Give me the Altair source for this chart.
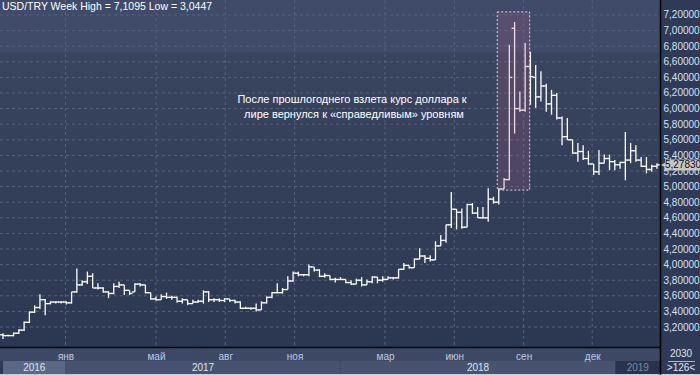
import altair as alt
import pandas as pd

# ---------------- data ----------------
first_week = "2016-10-10"
opens = [3.10, 3.09, 3.09, 3.12, 3.16, 3.26, 3.39, 3.45, 3.55, 3.50,
         3.52, 3.52, 3.52, 3.51, 3.65, 3.74, 3.78, 3.85, 3.70, 3.70,
         3.65, 3.63, 3.72, 3.74, 3.67, 3.65, 3.75, 3.74, 3.64, 3.56,
         3.55, 3.59, 3.58, 3.58, 3.53, 3.55, 3.50, 3.52, 3.53, 3.65,
         3.55, 3.55, 3.54, 3.56, 3.54, 3.52, 3.44, 3.44, 3.44, 3.42,
         3.51, 3.58, 3.64, 3.64, 3.68, 3.79, 3.89, 3.87, 3.87, 3.97,
         3.93, 3.85, 3.86, 3.81, 3.81, 3.81, 3.77, 3.75, 3.80, 3.74,
         3.78, 3.84, 3.80, 3.81, 3.83, 3.83, 3.94, 3.99, 3.96, 4.07,
         4.11, 4.08, 4.06, 4.24, 4.31, 4.51, 4.71, 4.67, 4.48, 4.77,
         4.66, 4.60, 4.60, 4.84, 4.80, 4.97, 5.09, 7.03, 6.00, 5.98,
         6.54, 6.40, 6.15, 6.29, 6.06, 6.17, 5.88, 5.64, 5.60, 5.43,
         5.45, 5.36, 5.29, 5.19, 5.30, 5.36, 5.32, 5.28, 5.31, 5.34,
         5.46, 5.34, 5.26, 5.22, 5.26]
highs = [3.12, 3.10, 3.13, 3.17, 3.27, 3.40, 3.48, 3.62, 3.56, 3.53,
         3.53, 3.53, 3.53, 3.65, 3.95, 3.80, 3.91, 3.89, 3.76, 3.71,
         3.66, 3.76, 3.78, 3.74, 3.67, 3.76, 3.76, 3.74, 3.64, 3.59,
         3.62, 3.64, 3.60, 3.59, 3.57, 3.55, 3.55, 3.55, 3.67, 3.66,
         3.57, 3.57, 3.57, 3.56, 3.55, 3.53, 3.46, 3.45, 3.50, 3.53,
         3.59, 3.65, 3.76, 3.70, 3.85, 3.91, 3.91, 3.88, 4.00, 3.97,
         3.94, 3.89, 3.86, 3.83, 3.84, 3.81, 3.80, 3.82, 3.84, 3.81,
         3.85, 3.84, 3.85, 3.85, 3.84, 3.94, 4.02, 3.99, 4.08, 4.21,
         4.12, 4.12, 4.30, 4.38, 4.51, 4.93, 4.71, 4.72, 4.78, 4.79,
         4.74, 4.74, 4.98, 4.87, 4.98, 5.11, 6.82, 7.11, 6.22, 6.84,
         6.73, 6.56, 6.48, 6.32, 6.24, 6.20, 5.90, 5.88, 5.60, 5.56,
         5.53, 5.46, 5.29, 5.47, 5.41, 5.41, 5.34, 5.32, 5.70, 5.56,
         5.53, 5.38, 5.38, 5.28, 5.30]
lows = [3.045, 3.08, 3.08, 3.11, 3.15, 3.25, 3.38, 3.43, 3.35, 3.49,
        3.50, 3.50, 3.49, 3.50, 3.64, 3.73, 3.75, 3.70, 3.68, 3.64,
        3.57, 3.62, 3.70, 3.61, 3.61, 3.65, 3.72, 3.63, 3.55, 3.54,
        3.55, 3.56, 3.55, 3.51, 3.50, 3.48, 3.50, 3.51, 3.50, 3.52,
        3.52, 3.52, 3.52, 3.52, 3.50, 3.43, 3.43, 3.42, 3.40, 3.42,
        3.50, 3.57, 3.63, 3.63, 3.68, 3.78, 3.85, 3.85, 3.85, 3.91,
        3.84, 3.83, 3.80, 3.77, 3.80, 3.76, 3.74, 3.75, 3.72, 3.74,
        3.76, 3.76, 3.78, 3.81, 3.81, 3.82, 3.93, 3.95, 3.96, 4.07,
        4.02, 4.04, 4.06, 4.24, 4.28, 4.47, 4.45, 4.46, 4.48, 4.65,
        4.60, 4.59, 4.55, 4.78, 4.77, 4.97, 5.08, 5.68, 5.96, 5.96,
        6.05, 6.01, 6.09, 5.96, 5.92, 5.86, 5.53, 5.60, 5.42, 5.32,
        5.34, 5.28, 5.15, 5.15, 5.30, 5.21, 5.21, 5.23, 5.08, 5.30,
        5.32, 5.25, 5.17, 5.19, 5.23]
closes = [3.09, 3.09, 3.12, 3.16, 3.26, 3.39, 3.45, 3.55, 3.50, 3.52,
          3.52, 3.52, 3.51, 3.65, 3.74, 3.78, 3.85, 3.70, 3.70, 3.65,
          3.63, 3.72, 3.74, 3.67, 3.63, 3.75, 3.74, 3.64, 3.56, 3.55,
          3.59, 3.58, 3.58, 3.53, 3.55, 3.50, 3.52, 3.53, 3.65, 3.55,
          3.55, 3.54, 3.56, 3.54, 3.52, 3.44, 3.44, 3.44, 3.42, 3.51,
          3.58, 3.64, 3.64, 3.68, 3.79, 3.89, 3.87, 3.87, 3.97, 3.93,
          3.85, 3.86, 3.81, 3.81, 3.81, 3.77, 3.75, 3.80, 3.74, 3.78,
          3.84, 3.80, 3.81, 3.83, 3.83, 3.94, 3.99, 3.96, 4.07, 4.11,
          4.08, 4.06, 4.24, 4.31, 4.51, 4.71, 4.67, 4.48, 4.77, 4.66,
          4.60, 4.60, 4.84, 4.80, 4.97, 5.09, 6.40, 6.00, 5.98, 6.54,
          6.41, 6.15, 6.29, 6.06, 6.17, 5.88, 5.64, 5.60, 5.43, 5.45,
          5.36, 5.29, 5.19, 5.30, 5.36, 5.32, 5.28, 5.31, 5.34, 5.46,
          5.34, 5.26, 5.22, 5.26, 5.2783]

y_ticks = [3.2, 3.4, 3.6, 3.8, 4.0, 4.2, 4.4, 4.6, 4.8, 5.0, 5.2, 5.4,
           5.6, 5.8, 6.0, 6.2, 6.4, 6.6, 6.8, 7.0, 7.2]
month_ticks = ["2017-01-01", "2017-05-01", "2017-08-01", "2017-11-01",
               "2018-03-01", "2018-06-01", "2018-09-01", "2018-12-01"]
month_names = ["янв", "фев", "мар", "апр", "май", "июн",
               "июл", "авг", "сен", "окт", "ноя", "дек"]
years = ["2016", "2017", "2018", "2019"]
year_starts = ["2016-10-10", "2017-01-01", "2018-01-01", "2019-01-01"]
year_ends = ["2017-01-01", "2018-01-01", "2019-01-01", "2019-03-01"]
title_text = "USD/TRY Week High = 7,1095 Low = 3,0447"
note_lines = ["После прошлогоднего взлета курс доллара к",
              "лире вернулся к «справедливым» уровням"]
highlight_dates = ["2018-07-28", "2018-09-09"]
highlight_values = [4.955, 7.24]
x_domain = ["2016-10-06", "2019-03-01"]
y_domain = [2.9436, 7.3923]

# ---------------- tables ----------------
df = pd.DataFrame({
    "date": pd.date_range(first_week, periods=len(closes), freq="7D"),
    "o": opens, "h": highs, "l": lows, "c": closes,
})
ticks_df = pd.DataFrame({"tick": pd.to_datetime(month_ticks)})
grid_df = pd.DataFrame({"v": y_ticks})
years_df = pd.DataFrame({"year": years,
                         "start": pd.to_datetime(year_starts),
                         "end": pd.to_datetime(year_ends)})
years_df["mid"] = years_df["start"] + (years_df["end"] - years_df["start"]) / 2
hl_df = pd.DataFrame({"d1": [pd.Timestamp(highlight_dates[0])],
                      "d2": [pd.Timestamp(highlight_dates[1])],
                      "v1": [highlight_values[0]], "v2": [highlight_values[1]]})
one = pd.DataFrame({"k": [0]})


def dt(s):
    t = pd.Timestamp(s)
    return alt.DateTime(year=t.year, month=t.month, date=t.day)


FONT = "Liberation Sans"
xscale = alt.Scale(domain=[dt(x_domain[0]), dt(x_domain[1])], nice=False)
yscale = alt.Scale(domain=y_domain, nice=False, zero=False)
month_expr = "[" + ",".join("'%s'" % m for m in month_names) + "][month(datum.value)]"
xaxis = alt.Axis(values=[dt(s) for s in month_ticks], labelExpr=month_expr,
                 title=None, grid=False, domain=False, ticks=False,
                 labelPadding=4, labelFont=FONT, labelFontSize=10,
                 labelColor="#bccbe6", labelOverlap=False, labelFlush=False,
                 zindex=1)
yaxis = alt.Axis(values=y_ticks, orient="right", title=None, grid=False,
                 domain=False, ticks=False, labelPadding=3, labelFont=FONT,
                 labelFontSize=10, labelColor="#d4e0f6", labelOverlap=False,
                 labelExpr="replace(format(datum.value, '.5f'), '.', ',')")


def X(f):
    return alt.X(f, type="temporal", scale=xscale, axis=xaxis)


def Y(f):
    return alt.Y(f, type="quantitative", scale=yscale, axis=yaxis)


# ---------------- layers ----------------
plot_bg = alt.Chart(one).mark_rect(color=alt.Gradient(
    gradient="linear", x1=0, y1=0, x2=0, y2=1,
    stops=[alt.GradientStop(offset=0, color="#3f4b68"),
           alt.GradientStop(offset=0.15, color="#3f4b68"),
           alt.GradientStop(offset=0.152, color="#39455f"),
           alt.GradientStop(offset=1, color="#2c3852")])).encode(
    x=alt.value(0), x2=alt.value(660), y=alt.value(0), y2=alt.value(347))

month_row = alt.Chart(one).mark_rect(color="#3c4864").encode(
    x=alt.value(0), x2=alt.value(660), y=alt.value(347), y2=alt.value(361))

year_band = alt.Chart(years_df).mark_rect().encode(
    x=X("start"), x2="end", y=alt.value(361), y2=alt.value(374),
    color=alt.Color("year:N", legend=None,
                    scale=alt.Scale(domain=years,
                                    range=["#5b6883", "#48546f", "#48546f", "#29334d"])))

year_text = alt.Chart(years_df).mark_text(font=FONT, fontSize=10, baseline="middle").encode(
    x=X("mid"), y=alt.value(367.5), text="year:N",
    color=alt.condition("datum.year == '2019'", alt.value("#7d8aa3"), alt.value("#dde5f2")))

bottom_line = alt.Chart(one).mark_rule(color="#c8d0dc", strokeWidth=1).encode(
    x=alt.value(0), x2=alt.value(700), y=alt.value(374.5))

hgrid = alt.Chart(grid_df).mark_rule(color="#56627d", strokeDash=[3, 3], strokeWidth=1).encode(
    y=Y("v"), x=alt.value(0), x2=alt.value(660))
vgrid = alt.Chart(ticks_df).mark_rule(color="#56627d", strokeDash=[3, 3], strokeWidth=1).encode(
    x=X("tick"), y=alt.value(0), y2=alt.value(347))

base = alt.Chart(df)
hl_rule = base.mark_rule(color="white", strokeWidth=1.3).encode(x=X("date"), y=Y("l"), y2="h")
open_tick = base.mark_rule(color="white", strokeWidth=1.3, xOffset=-3).encode(
    x=X("date"), x2="date", y=Y("o"))
close_tick = base.mark_rule(color="white", strokeWidth=1.3, x2Offset=3).encode(
    x=X("date"), x2="date", y=Y("c"))

highlight = alt.Chart(hl_df).mark_rect(
    fill="#b25a82", fillOpacity=0.22, stroke="#d8d8e2", strokeDash=[2, 2],
    strokeWidth=1).encode(x=X("d1"), x2="d2", y=Y("v1"), y2="v2")

frame_v = alt.Chart(one).mark_rule(color="black", strokeWidth=1.5).encode(
    x=alt.value(660.5), y=alt.value(0), y2=alt.value(375))
frame_h = alt.Chart(one).mark_rule(color="black", strokeWidth=1.5).encode(
    x=alt.value(0), x2=alt.value(660), y=alt.value(347.5))

title = alt.Chart(one).mark_text(text=title_text, font=FONT, fontSize=10.5, color="white",
                                 align="left", baseline="middle").encode(
    x=alt.value(2), y=alt.value(7))
note1 = alt.Chart(one).mark_text(text=note_lines[0], font=FONT, fontSize=11, color="white",
                                 align="center", baseline="middle").encode(
    x=alt.value(352), y=alt.value(100))
note2 = alt.Chart(one).mark_text(text=note_lines[1], font=FONT, fontSize=11, color="white",
                                 align="center", baseline="middle").encode(
    x=alt.value(354), y=alt.value(115))

last = alt.Chart(df.tail(1)).transform_calculate(
    lbl="replace(format(datum.c, '.5f'), '.', ',')")
price_box = last.mark_rect(color="#c6c6c6", yOffset=-5.5, y2Offset=5.5).encode(
    x=alt.value(665), x2=alt.value(700), y=Y("c"), y2="c")
price_arrow = last.mark_point(shape="triangle-left", filled=True, color="#c6c6c6",
                              opacity=1, size=45).encode(x=alt.value(664), y=Y("c"))
price_text = last.mark_text(font=FONT, fontSize=10, color="#111111",
                            baseline="middle", align="center").encode(
    x=alt.value(683), y=Y("c"), text="lbl:N")

corner_top = alt.Chart(one).mark_text(text="2030", font=FONT, fontSize=10, color="#dde5f2",
                                      baseline="middle").encode(x=alt.value(681), y=alt.value(354))
corner_bot = alt.Chart(one).mark_text(text=">126<", font=FONT, fontSize=10, color="#dde5f2",
                                      baseline="middle").encode(x=alt.value(681), y=alt.value(368))
corner_sep = alt.Chart(one).mark_rule(color="#aab4c8", strokeWidth=1).encode(
    x=alt.value(668), x2=alt.value(695), y=alt.value(361.5))

chart = alt.layer(
    plot_bg, month_row, year_band, year_text, bottom_line, hgrid, vgrid,
    hl_rule, open_tick, close_tick, highlight,
    frame_v, frame_h, title, note1, note2,
    price_box, price_arrow, price_text, corner_top, corner_bot, corner_sep,
).properties(
    width=660, height=347,
    padding={"left": 0, "top": 0, "right": 40, "bottom": 28},
    autosize=alt.AutoSizeParams(type="none"),
    background="#2f3b56",
).configure_view(stroke=None)

chart.save("out.html", embed_options={"renderer": "svg", "actions": False})
